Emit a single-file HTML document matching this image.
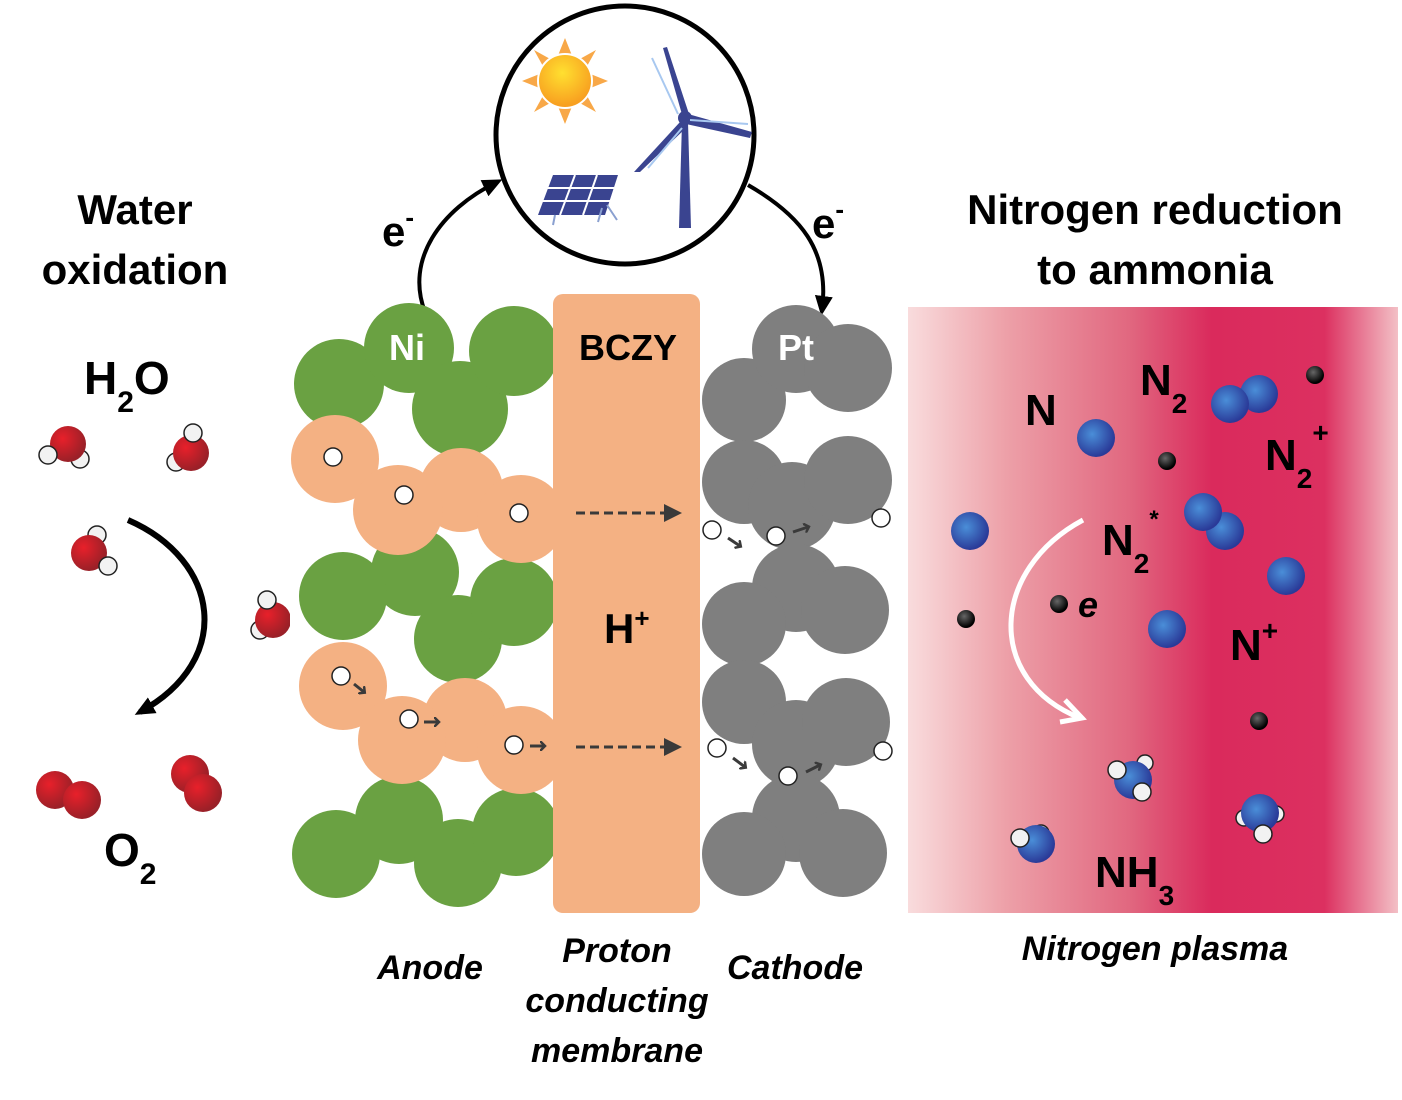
<!DOCTYPE html>
<html><head><meta charset="utf-8"><style>
html,body{margin:0;padding:0;background:#fff}
svg{display:block}
text{font-family:"Liberation Sans",sans-serif;font-weight:bold}
</style></head><body>
<svg width="1402" height="1100" viewBox="0 0 1402 1100" xmlns="http://www.w3.org/2000/svg">
<defs>
<linearGradient id="pl" x1="908" x2="1398" y1="0" y2="0" gradientUnits="userSpaceOnUse">
<stop offset="0" stop-color="#f9dcdd"/>
<stop offset="0.2" stop-color="#eda0a8"/>
<stop offset="0.45" stop-color="#e16880"/>
<stop offset="0.62" stop-color="#da2a5c"/>
<stop offset="0.85" stop-color="#dc3060"/>
<stop offset="1" stop-color="#f3c0c6"/>
</linearGradient>
<radialGradient id="bl" cx="0.4" cy="0.4" r="0.6"><stop offset="0" stop-color="#4a8ed8"/><stop offset="1" stop-color="#2a3a98"/></radialGradient>
<radialGradient id="rd" cx="0.35" cy="0.35" r="0.65"><stop offset="0" stop-color="#e8202a"/><stop offset="1" stop-color="#9a2028"/></radialGradient>
<radialGradient id="bk" cx="0.4" cy="0.35" r="0.6"><stop offset="0" stop-color="#666"/><stop offset="1" stop-color="#000"/></radialGradient>
<radialGradient id="sun" cx="0.45" cy="0.35" r="0.6"><stop offset="0" stop-color="#ffe030"/><stop offset="1" stop-color="#f8a020"/></radialGradient>
<marker id="ah" markerWidth="20" markerHeight="18" refX="14" refY="9" orient="auto" markerUnits="userSpaceOnUse"><path d="M0,0 L20,9 L0,18 Z" fill="#000"/></marker>
<marker id="dh" markerWidth="10" markerHeight="10" refX="4" refY="5" orient="auto" markerUnits="userSpaceOnUse"><path d="M0,0 L5,5 L0,10" fill="none" stroke="#3a3a3a" stroke-width="2.5"/></marker>
</defs>

<rect x="908" y="307" width="490" height="606" fill="url(#pl)"/>

<text x="135" y="224" font-size="42" text-anchor="middle">Water</text>
<text x="135" y="284" font-size="42" text-anchor="middle">oxidation</text>
<text x="1155" y="224" font-size="42" text-anchor="middle">Nitrogen reduction</text>
<text x="1155" y="284" font-size="42" text-anchor="middle">to ammonia</text>

<text x="84" y="394" font-size="46">H<tspan font-size="30" dy="18">2</tspan><tspan dy="-18">O</tspan></text>
<text x="104" y="866" font-size="46">O<tspan font-size="30" dy="18">2</tspan></text>
<g stroke="#222" stroke-width="1.5" fill="#f2f2f2">
<circle cx="80" cy="459" r="9"/>
<circle cx="68" cy="444" r="18" fill="url(#rd)" stroke="none"/>
<circle cx="48" cy="455" r="9"/>
<circle cx="176" cy="462" r="9"/>
<circle cx="191" cy="453" r="18" fill="url(#rd)" stroke="none"/>
<circle cx="193" cy="433" r="9"/>
<circle cx="97" cy="535" r="9"/>
<circle cx="89" cy="553" r="18" fill="url(#rd)" stroke="none"/>
<circle cx="108" cy="566" r="9"/>
<circle cx="260" cy="630" r="9"/>
<circle cx="273" cy="620" r="18" fill="url(#rd)" stroke="none"/>
<circle cx="267" cy="600" r="9"/>
</g>
<rect x="290" y="590" width="10" height="60" fill="#fff"/>
<circle cx="55" cy="790" r="19" fill="url(#rd)"/><circle cx="82" cy="800" r="19" fill="url(#rd)"/>
<circle cx="190" cy="774" r="19" fill="url(#rd)"/><circle cx="203" cy="793" r="19" fill="url(#rd)"/>
<path d="M128,520 C220,560 235,660 140,712" fill="none" stroke="#000" stroke-width="6" marker-end="url(#ah)"/>

<circle cx="625" cy="135" r="129" fill="#fff" stroke="#000" stroke-width="5"/>
<g fill="#f8a848">
<polygon points="565,38 557,58 573,58"/><polygon points="565,124 557,104 573,104"/>
<polygon points="522,81 542,73 542,89"/><polygon points="608,81 588,73 588,89"/>
<polygon points="534,50 552,60 544,68"/><polygon points="596,50 578,60 586,68"/>
<polygon points="534,112 552,102 544,94"/><polygon points="596,112 578,102 586,94"/>
</g>
<circle cx="565" cy="81" r="27" fill="url(#sun)" stroke="#fff" stroke-width="2"/>
<g fill="#3a4490">
<polygon points="553,175 618,175 605,215 538,215"/>
<polygon points="682,122 688,122 691,228 679,228"/>
<polygon points="683,118 663,48 667,47 689,114"/>
<polygon points="688,114 752,132 750,138 686,124"/>
<polygon points="680,122 634,172 640,172 688,126"/>
<circle cx="685" cy="118" r="7"/>
</g>
<g stroke="#a8c8f0" stroke-width="2" fill="none"><path d="M678,114 L652,58"/><path d="M690,120 L748,124"/><path d="M682,128 L648,168"/></g>
<g stroke="#fff" stroke-width="2"><line x1="546" y1="188" x2="614" y2="188"/><line x1="542" y1="201" x2="610" y2="201"/><line x1="575" y1="175" x2="560" y2="215"/><line x1="597" y1="175" x2="583" y2="215"/></g>
<g stroke="#8aa0d0" stroke-width="2"><line x1="555" y1="215" x2="553" y2="225"/><line x1="602" y1="208" x2="598" y2="222"/><line x1="607" y1="205" x2="617" y2="220"/></g>
<path d="M425,312 C405,260 440,210 497,182" fill="none" stroke="#000" stroke-width="4" marker-end="url(#ah)"/>
<path d="M748,185 C800,215 830,250 822,310" fill="none" stroke="#000" stroke-width="4" marker-end="url(#ah)"/>
<text x="382" y="246" font-size="42">e<tspan font-size="26" dy="-20">-</tspan></text>
<text x="812" y="238" font-size="42">e<tspan font-size="26" dy="-20">-</tspan></text>

<g fill="#6aa142">
<circle cx="339" cy="384" r="45"/><circle cx="409" cy="348" r="45"/><circle cx="460" cy="409" r="48"/><circle cx="514" cy="351" r="45"/>
<circle cx="415" cy="572" r="44"/><circle cx="343" cy="596" r="44"/><circle cx="458" cy="639" r="44"/><circle cx="514" cy="602" r="44"/>
<circle cx="399" cy="820" r="44"/><circle cx="336" cy="854" r="44"/><circle cx="458" cy="863" r="44"/><circle cx="516" cy="832" r="44"/>
</g>
<g fill="#f4b183">
<circle cx="335" cy="459" r="44"/><circle cx="461" cy="490" r="42"/><circle cx="398" cy="510" r="45"/><circle cx="521" cy="519" r="44"/>
<circle cx="343" cy="686" r="44"/><circle cx="465" cy="720" r="42"/><circle cx="402" cy="740" r="44"/><circle cx="521" cy="750" r="44"/>
</g>
<text x="407" y="360" font-size="36" fill="#fff" text-anchor="middle">Ni</text>

<g fill="#7f7f7f">
<circle cx="744" cy="400" r="42"/><circle cx="796" cy="349" r="44"/><circle cx="848" cy="368" r="44"/>
<circle cx="744" cy="482" r="42"/><circle cx="792" cy="506" r="44"/><circle cx="848" cy="480" r="44"/>
<circle cx="796" cy="588" r="44"/><circle cx="744" cy="624" r="42"/><circle cx="845" cy="610" r="44"/>
<circle cx="744" cy="702" r="42"/><circle cx="796" cy="744" r="44"/><circle cx="846" cy="722" r="44"/>
<circle cx="796" cy="818" r="44"/><circle cx="744" cy="854" r="42"/><circle cx="843" cy="853" r="44"/>
</g>
<text x="796" y="360" font-size="36" fill="#fff" text-anchor="middle">Pt</text>

<rect x="553" y="294" width="147" height="619" rx="10" fill="#f4b183"/>
<text x="628" y="360" font-size="36" text-anchor="middle">BCZY</text>
<text x="604" y="643" font-size="42">H<tspan font-size="26" dy="-16">+</tspan></text>
<g stroke="#3a3a3a" stroke-width="3" stroke-dasharray="9,5" fill="none">
<line x1="576" y1="513" x2="668" y2="513"/><line x1="576" y1="747" x2="668" y2="747"/>
</g>
<polygon points="664,504 682,513 664,522" fill="#3a3a3a"/><polygon points="664,738 682,747 664,756" fill="#3a3a3a"/>

<g fill="#fff" stroke="#222" stroke-width="1.5">
<circle cx="333" cy="457" r="9"/><circle cx="404" cy="495" r="9"/><circle cx="519" cy="513" r="9"/>
<circle cx="341" cy="676" r="9"/><circle cx="409" cy="719" r="9"/><circle cx="514" cy="745" r="9"/>
<circle cx="712" cy="530" r="9"/><circle cx="776" cy="536" r="9"/><circle cx="881" cy="518" r="9"/>
<circle cx="717" cy="748" r="9"/><circle cx="788" cy="776" r="9"/><circle cx="883" cy="751" r="9"/>
</g>
<g stroke="#3a3a3a" stroke-width="3" fill="none" marker-end="url(#dh)">
<line x1="354" y1="684" x2="364" y2="692"/><line x1="424" y1="722" x2="438" y2="722"/><line x1="530" y1="746" x2="544" y2="746"/>
<line x1="728" y1="538" x2="740" y2="546"/><line x1="793" y1="532" x2="808" y2="527"/>
<line x1="733" y1="758" x2="745" y2="767"/><line x1="806" y1="772" x2="820" y2="765"/>
</g>

<text x="1025" y="425" font-size="44">N</text>
<text x="1140" y="395" font-size="44">N<tspan font-size="28" dy="18">2</tspan></text>
<text x="1265" y="470" font-size="44">N<tspan font-size="28" dy="18">2</tspan><tspan font-size="28" dy="-46">+</tspan></text>
<text x="1102" y="555" font-size="44">N<tspan font-size="28" dy="18">2</tspan><tspan font-size="24" dy="-46">*</tspan></text>
<text x="1230" y="660" font-size="44">N<tspan font-size="28" dy="-20">+</tspan></text>
<text x="1095" y="887" font-size="44">NH<tspan font-size="28" dy="18">3</tspan></text>
<text x="1078" y="617" font-size="36" font-style="italic">e</text>
<g fill="url(#bl)">
<circle cx="1096" cy="438" r="19"/><circle cx="1259" cy="394" r="19"/><circle cx="1230" cy="404" r="19"/>
<circle cx="1225" cy="531" r="19"/><circle cx="1203" cy="512" r="19"/>
<circle cx="970" cy="531" r="19"/><circle cx="1286" cy="576" r="19"/><circle cx="1167" cy="629" r="19"/>
</g>
<g fill="url(#bk)">
<circle cx="1315" cy="375" r="9"/><circle cx="1167" cy="461" r="9"/><circle cx="966" cy="619" r="9"/><circle cx="1059" cy="604" r="9"/><circle cx="1259" cy="721" r="9"/>
</g>
<path d="M1083,520 C990,570 985,680 1080,718" fill="none" stroke="#fff" stroke-width="5"/>
<polyline points="1065,700 1082,718 1060,722" fill="none" stroke="#fff" stroke-width="5"/>
<g stroke="#222" stroke-width="1.5" fill="#f2f2f2">
<circle cx="1145" cy="763" r="8"/><circle cx="1133" cy="780" r="19" fill="url(#bl)" stroke="none"/><circle cx="1117" cy="770" r="9"/><circle cx="1142" cy="792" r="9"/>
<circle cx="1041" cy="833" r="8"/><circle cx="1036" cy="844" r="19" fill="url(#bl)" stroke="none"/><circle cx="1020" cy="838" r="9"/>
<circle cx="1244" cy="818" r="8"/><circle cx="1276" cy="814" r="8"/><circle cx="1260" cy="813" r="19" fill="url(#bl)" stroke="none"/><circle cx="1263" cy="834" r="9"/>
</g>

<g font-style="italic" font-size="34">
<text x="430" y="979" text-anchor="middle">Anode</text>
<text x="617" y="962" text-anchor="middle">Proton</text>
<text x="617" y="1012" text-anchor="middle">conducting</text>
<text x="617" y="1062" text-anchor="middle">membrane</text>
<text x="795" y="979" text-anchor="middle">Cathode</text>
<text x="1155" y="960" text-anchor="middle">Nitrogen plasma</text>
</g>
</svg>
</body></html>
